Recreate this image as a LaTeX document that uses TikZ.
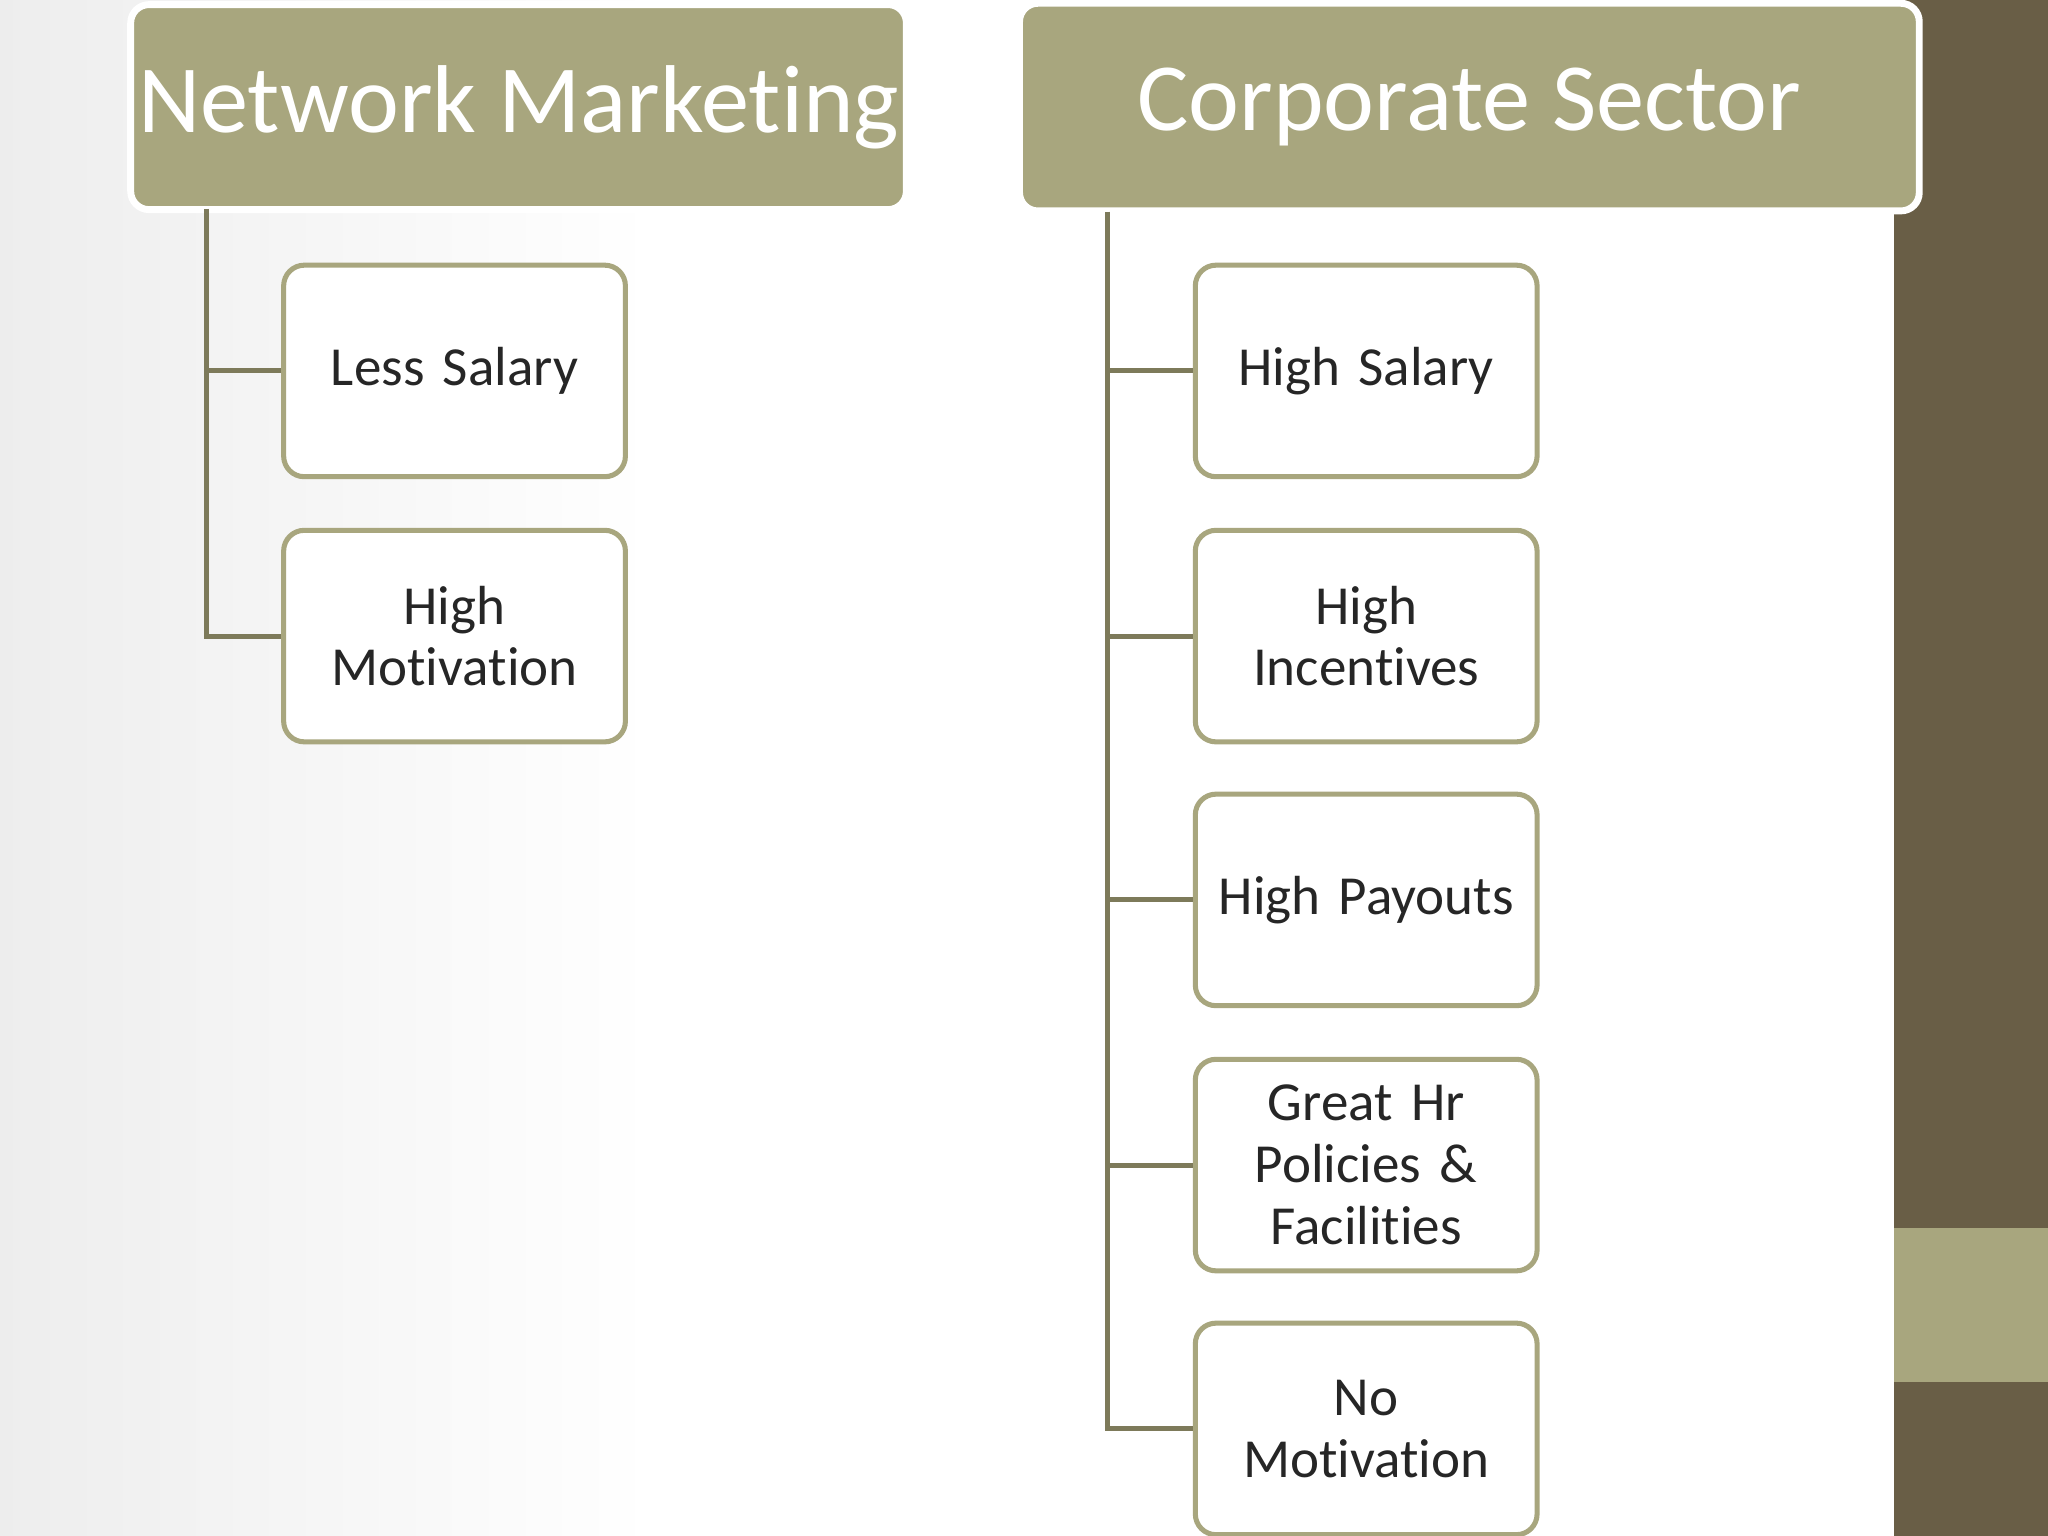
\documentclass[tikz,border=0pt]{standalone}
\usepackage{fontspec}
\setmainfont[RawFeature=-liga]{Carlito}
\definecolor{olive}{HTML}{A8A67E}
\definecolor{darkol}{HTML}{695E46}
\definecolor{linec}{HTML}{7D7A5A}
\definecolor{txt}{HTML}{262626}
\begin{document}
\begin{tikzpicture}[x=0.02cm,y=-0.02cm,
 hdr/.style={draw=white,line width=3pt,fill=olive,rounded corners=8pt,text=white,inner sep=0pt,font=\fontsize{42}{46}\selectfont},
 item/.style={draw=olive,line width=2.2pt,fill=white,rounded corners=9pt,minimum width=5.2cm,minimum height=3.24cm,text width=5cm,align=center,text=txt,font=\fontsize{24}{27}\selectfont},
 conn/.style={draw=linec,line width=2.2pt}]
\useasboundingbox (0,0) rectangle (1568,1176);
\shade[left color=black!7,right color=white] (0,0) rectangle (500,1176);
\fill[white] (500,0) rectangle (1450,1176);
\fill[darkol] (1450,0) rectangle (1568,1176);
\fill[olive] (1450,940) rectangle (1568,1058);
\node[hdr,minimum width=11.88cm,minimum height=3.14cm] (nm) at (397,82) {Network Marketing};
\node[hdr,minimum width=13.78cm,minimum height=3.18cm] (cs) at (1125,82) {Corporate Sector};
\node[item] (l1) at (348,284) {Less Salary};
\node[item] (l2) at (348,487) {High\\Motivation};
\node[item] (r1) at (1046,284) {High Salary};
\node[item] (r2) at (1046,487) {High\\Incentives};
\node[item] (r3) at (1046,689) {High Payouts};
\node[item] (r4) at (1046,892) {Great Hr\\Policies \&\\Facilities};
\node[item] (r5) at (1046,1094) {No\\Motivation};
\coordinate (lt) at (158,160);
\coordinate (rt) at (848,162);
\draw[conn] (lt) |- (l2.west);
\draw[conn] (l1.west) -- (lt |- l1.west);
\draw[conn] (rt) |- (r5.west);
\foreach \n in {r1,r2,r3,r4} \draw[conn] (\n.west) -- (rt |- \n.west);
\end{tikzpicture}
\end{document}
